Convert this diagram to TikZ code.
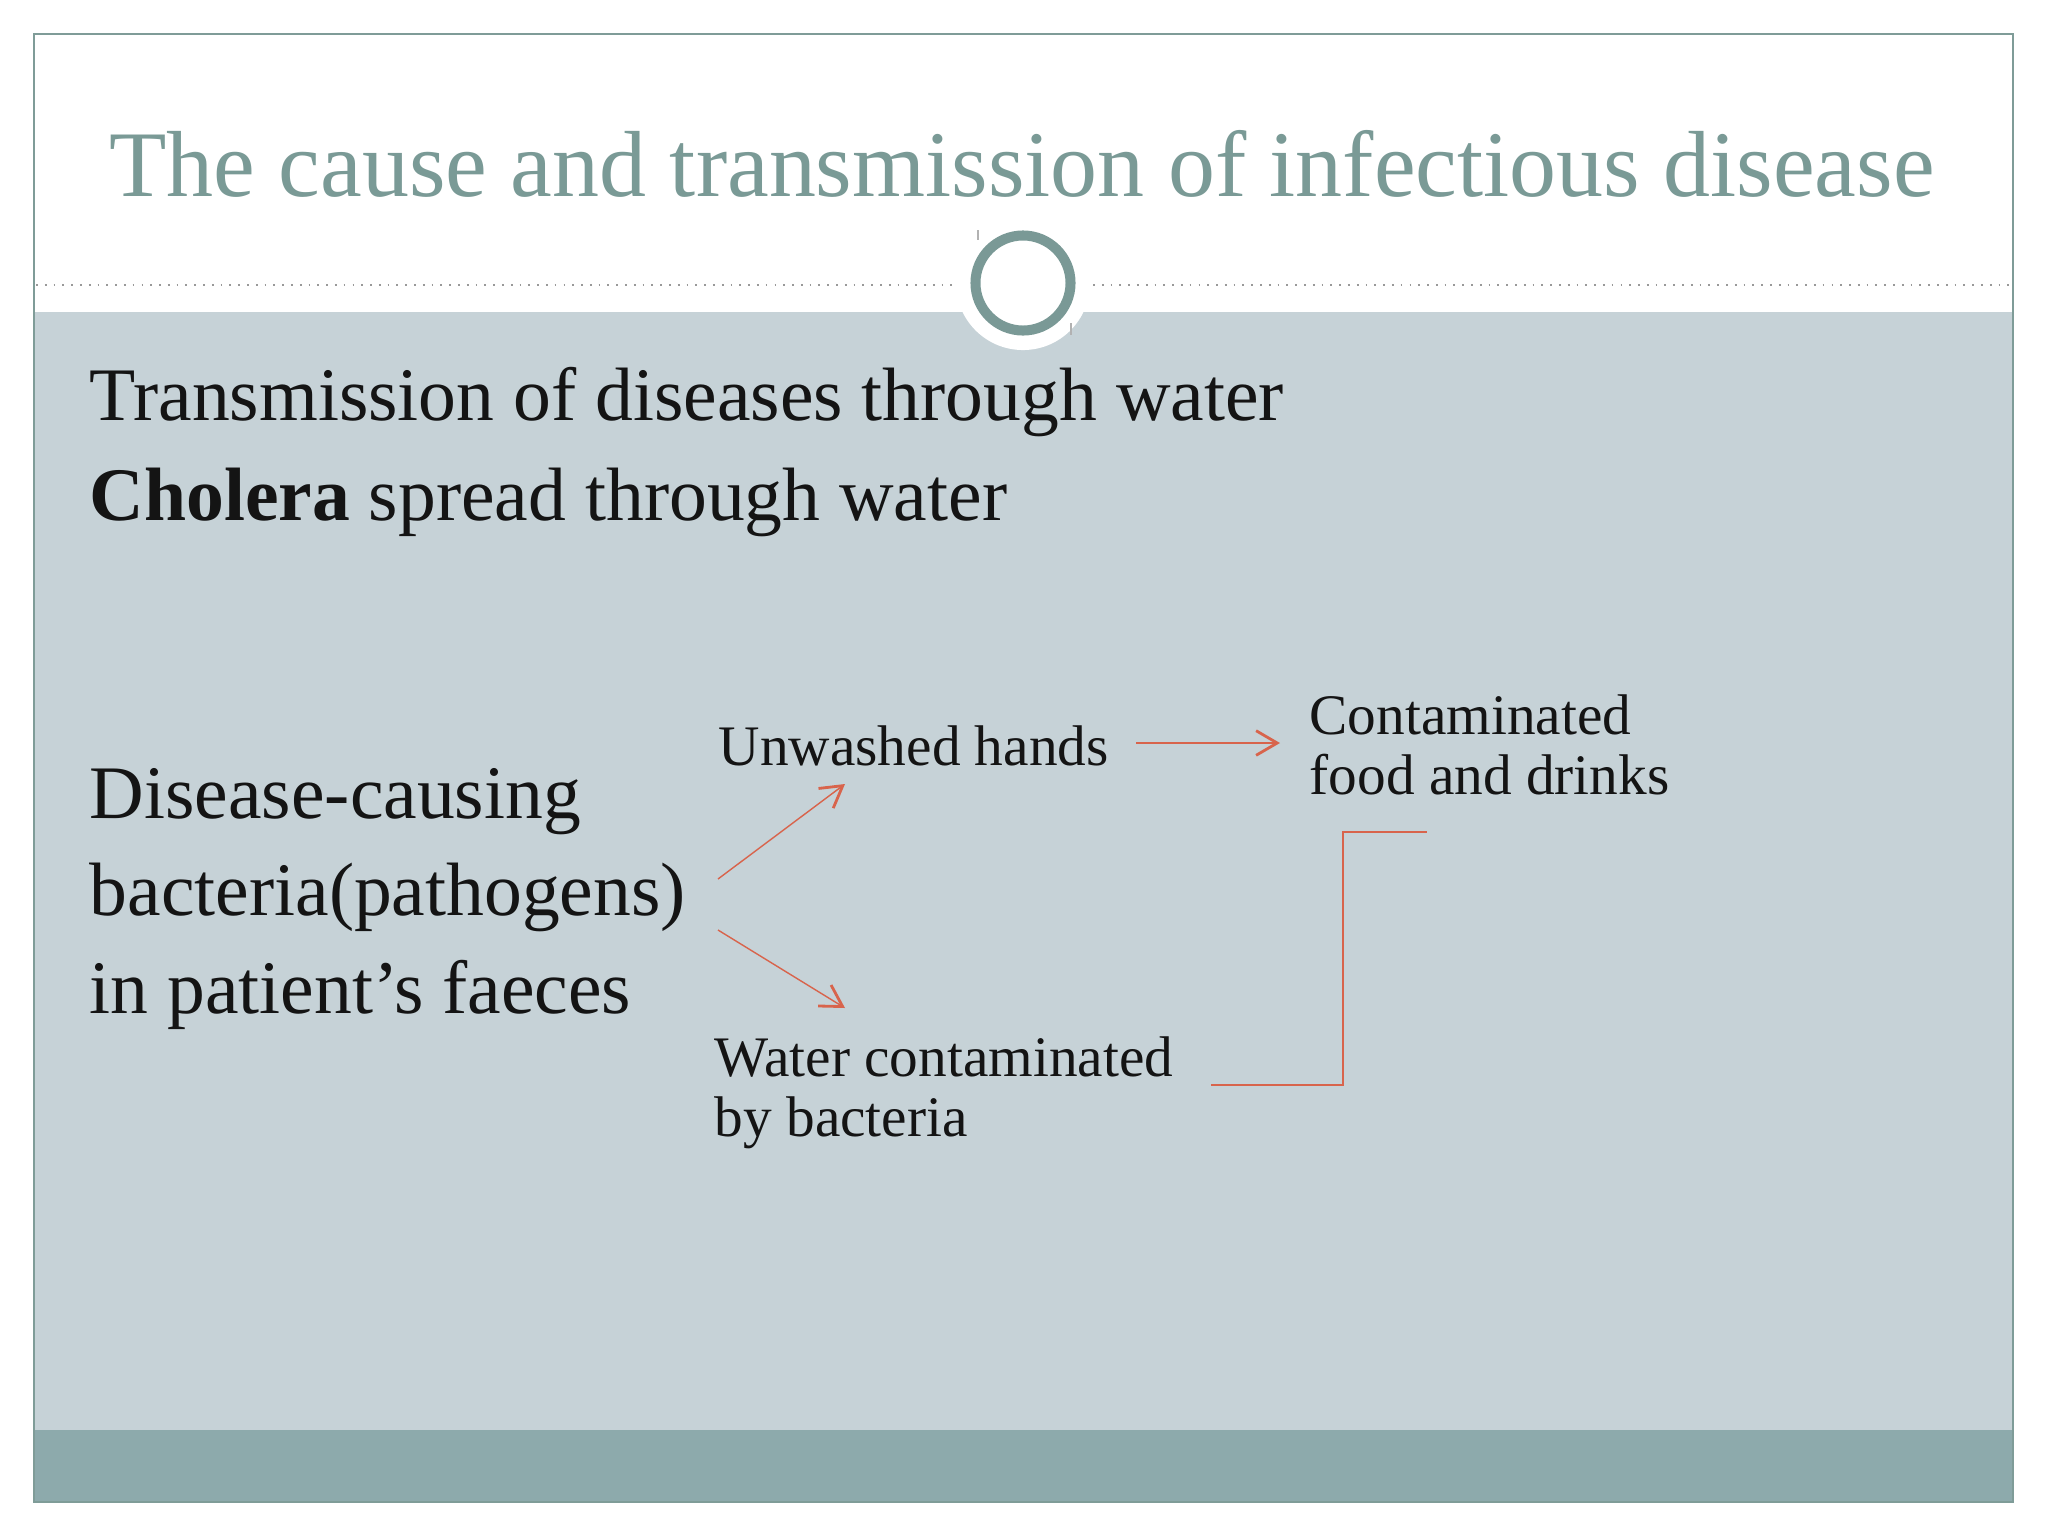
\documentclass[tikz,border=0pt]{standalone}
\usepackage{fontspec}
\setmainfont{Liberation Serif}
\usetikzlibrary{arrows.meta}
\definecolor{titlecol}{HTML}{7A9A96}
\definecolor{ringcol}{HTML}{7A9996}
\definecolor{panelcol}{HTML}{C6D2D7}
\definecolor{bandcol}{HTML}{8DAAAC}
\definecolor{framecol}{HTML}{7F9C98}
\definecolor{arrowcol}{HTML}{D8644C}
\definecolor{textcol}{HTML}{141414}
\tikzset{
  bigtext/.style={anchor=base west, inner sep=0pt, text=textcol, font=\fontsize{21.5}{27.6}\selectfont, align=left},
  smalltext/.style={anchor=base west, inner sep=0pt, text=textcol, font=\fontsize{16.3}{17}\selectfont, align=left},
  arr/.style={draw=arrowcol, line width=0.4pt, -{Straight Barb[length=6pt,width=7pt,line width=0.8pt]}},
  elbow/.style={draw=arrowcol, line width=0.55pt},
  dotline/.style={draw=gray!80, line width=0.5pt, dotted}
}
\begin{document}
\begin{tikzpicture}[x=0.01cm,y=-0.01cm]
\useasboundingbox (0,0) rectangle (2048,1536);
\fill[white] (0,0) rectangle (2048,1536);
% panels
\fill[panelcol] (34,312) rectangle (2013,1430);
\fill[bandcol] (34,1430) rectangle (2013,1502);
\draw[framecol, line width=0.6pt] (34,34) rectangle (2013,1502);
% dotted separator
\draw[dotline] (36,285) -- (955,285);
\draw[dotline] (1093,285) -- (2011,285);
% ring
\fill[white] (1023,283) circle[radius=0.67cm];
\draw[ringcol, line width=2.85pt] (1023,283) circle[radius=0.475cm];
\draw[gray!60, line width=0.3pt] (978,230) -- (978,240);
\draw[gray!60, line width=0.3pt] (1071,323) -- (1071,335);
% title
\node[anchor=base, inner sep=0pt, text=titlecol, font=\fontsize{26.7}{32}\selectfont] (title) at (1022,196) {The cause and transmission of infectious disease};
% body
\node[bigtext] (t1) at (89,420) {Transmission of diseases through water};
\node[bigtext] (t2) at (89,520) {\textbf{Cholera} spread through water};
\node[bigtext] (src) at (89,1013) {Disease-causing\\bacteria(pathogens)\\in patient’s faeces};
\node[smalltext] (hands) at (718,765) {Unwashed hands};
\node[smalltext] (food) at (1309,794) {Contaminated\\food and drinks};
\node[smalltext] (water) at (714,1136) {Water contaminated\\by bacteria};
% connectors
\coordinate (upS) at (718,879);
\coordinate (upE) at (845,784);
\coordinate (dnS) at (718,930);
\coordinate (dnE) at (845,1008);
\coordinate (hS) at (1136,743);
\coordinate (hE) at (1280,743);
\coordinate (wS) at (1211,1085);
\coordinate (wC1) at (1343,1085);
\coordinate (wC2) at (1343,832);
\coordinate (wE) at (1427,832);
\draw[arr] (upS) -- (upE);
\draw[arr] (dnS) -- (dnE);
\draw[arr] (hS) -- (hE);
\draw[elbow] (wS) -- (wC1) -- (wC2) -- (wE);
\end{tikzpicture}
\end{document}
